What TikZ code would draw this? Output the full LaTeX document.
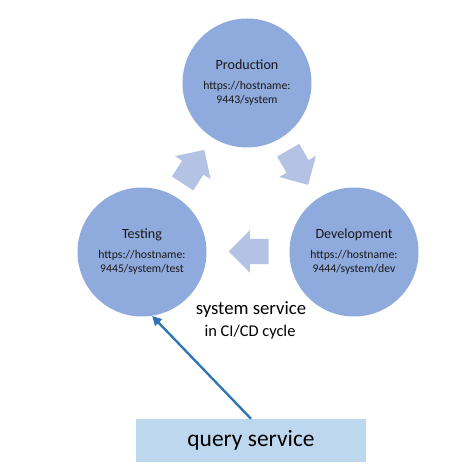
\documentclass[tikz,border=0pt]{standalone}
\usepackage{fontspec}
\setmainfont{Carlito}
\usepackage{xcolor}
\usepackage{tikz}
\usetikzlibrary{arrows.meta, positioning, shapes.arrows}

\definecolor{stageblue}{HTML}{8FAADC}
\definecolor{cycleblue}{HTML}{B4C3E4}
\definecolor{queryblue}{HTML}{BDD7EE}
\definecolor{linkblue}{HTML}{2E75B6}

\newcommand{\stagetitle}{\fontsize{12}{14}\selectfont}
\newcommand{\stageurl}{\fontsize{10}{9.5}\selectfont}

\begin{document}
\begin{tikzpicture}[
		x=0.03cm, y=0.03cm,
		stage/.style={circle, fill=stageblue, minimum size=3.87cm, inner sep=0pt, align=center, text=black!90},
		cyclearrow/.style={single arrow, fill=cycleblue, inner xsep=0pt, inner ysep=0.375cm, minimum height=1.2cm, single arrow head extend=0.255cm}
		]
		
		\useasboundingbox (0,0) rectangle (474,474);
		
		% Stages
		\node[stage] (prod) at (247,391) {\stagetitle Production\\[5pt]
			\stageurl https://hostname:\\9443/system};
		\node[stage] (test) at (142,222) {\stagetitle Testing\\[5pt]
			\stageurl https://hostname:\\9445/system/test};
		\node[stage] (dev) at (354,222) {\stagetitle Development\\[5pt]
			\stageurl https://hostname:\\9444/system/dev};
		
		% Cycle arrows
		\node[cyclearrow, rotate=57] (testtoprod) at (190,302) {};
		\node[cyclearrow, rotate=-60] (prodtodev) at (295,312) {};
		\node[cyclearrow, rotate=180] (devtotest) at (255,222.5) {};
		
		% Cycle caption
		\node[font=\fontsize{16}{18}\selectfont] (sys) at (251,164) {system service};
		\node[font=\fontsize{14}{16}\selectfont] (cicd) at (250,142) {in CI/CD cycle};
		
		% Query service
		\node[fill=queryblue, minimum width=6.9cm, minimum height=1.29cm, font=\fontsize{20}{24}\selectfont] (query) at (251,33.5) {query service};
		
		\draw[-{Triangle[length=8pt,width=8pt]}, line width=2pt, linkblue] (query.north) -- (test.279);
		
	\end{tikzpicture}
\end{document}
